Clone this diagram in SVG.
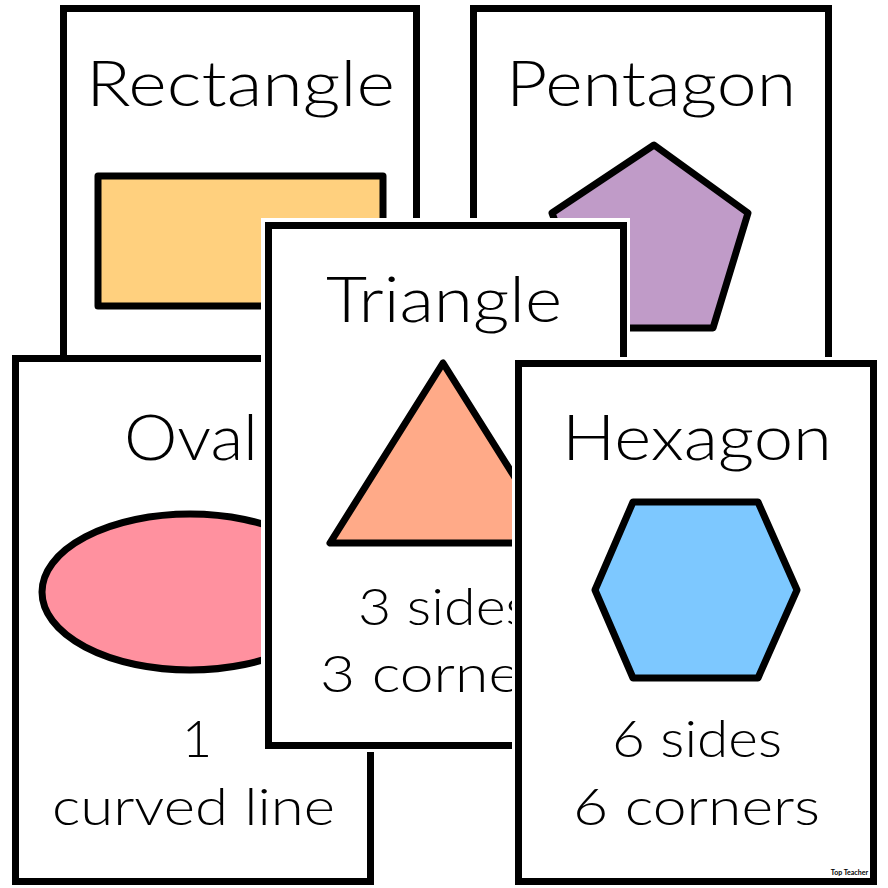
<svg xmlns="http://www.w3.org/2000/svg" width="888" height="888" viewBox="0 0 888 888">
<style>
.card{fill:#fff;stroke:#000;stroke-width:7}
.halo{fill:#fff}
.shape{stroke:#000;stroke-width:7;stroke-linejoin:round}
text{font-family:"Lato","DejaVu Sans",sans-serif;font-weight:300;fill:#000}
.t{font-size:64px}
.s{font-size:52px}
.tiny{font-size:7px;font-weight:700;text-anchor:end}
</style>
<rect width="888" height="888" fill="#fff"/>
<g id="rectangle-card">
<rect class="card" x="63.5" y="8.5" width="353" height="560"/>
<text class="t" x="86" y="106" textLength="309" lengthAdjust="spacingAndGlyphs">Rectangle</text>
<rect class="shape" x="98" y="176" width="285" height="130" fill="#FFD07E"/>
</g>
<g id="pentagon-card">
<rect class="card" x="473.5" y="8.5" width="355" height="560"/>
<text class="t" x="506" y="106" textLength="290" lengthAdjust="spacingAndGlyphs">Pentagon</text>
<polygon class="shape" points="654,145 748,213 713,328 595,328 552,213" fill="#C09BC8"/>
</g>
<g id="oval-card">
<rect class="card" x="15.5" y="358.5" width="355" height="523"/>
<text class="t" x="124" y="460" textLength="134" lengthAdjust="spacingAndGlyphs">Oval</text>
<ellipse class="shape" cx="190" cy="592" rx="148" ry="78" fill="#FF919F"/>
<text class="s" x="197" y="757" text-anchor="middle">1</text>
<text class="s" x="52" y="825" textLength="283" lengthAdjust="spacingAndGlyphs">curved line</text>
</g>
<g id="triangle-card">
<rect class="halo" x="261" y="218" width="369" height="534"/>
<rect class="card" x="268.5" y="225.5" width="355" height="520"/>
<text class="t" x="326" y="322" textLength="236" lengthAdjust="spacingAndGlyphs">Triangle</text>
<polygon class="shape" points="443,363 330,543 556,543" fill="#FFAA88"/>
<text class="s" x="358" y="625" textLength="172" lengthAdjust="spacingAndGlyphs">3 sides</text>
<text class="s" x="320" y="692" textLength="247" lengthAdjust="spacingAndGlyphs">3 corners</text>
</g>
<g id="hexagon-card">
<rect class="halo" x="512" y="357" width="369" height="531"/>
<rect class="card" x="518.5" y="363.5" width="355" height="518"/>
<text class="t" x="562" y="460" textLength="270" lengthAdjust="spacingAndGlyphs">Hexagon</text>
<polygon class="shape" points="595,590 633,502 758,502 797,590 758,678 633,678" fill="#7DC8FF"/>
<text class="s" x="612" y="757" textLength="170" lengthAdjust="spacingAndGlyphs">6 sides</text>
<text class="s" x="573" y="825" textLength="247" lengthAdjust="spacingAndGlyphs">6 corners</text>
<text class="tiny" x="868" y="875">Top Teacher</text>
</g>
</svg>
